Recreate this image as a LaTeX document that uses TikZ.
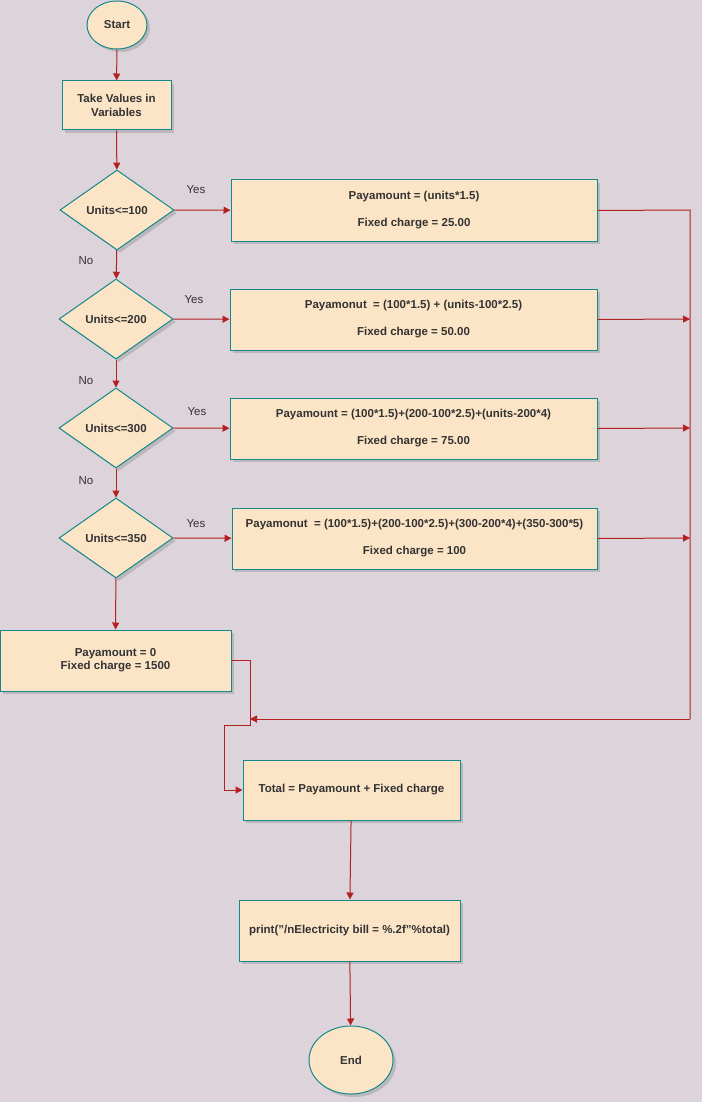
\documentclass[tikz,border=0pt]{standalone}
\usepackage{fontspec}
\setmainfont{Liberation Sans}
\usetikzlibrary{shapes.geometric,arrows.meta,shadows}
\definecolor{bg}{HTML}{DCD3DB}
\definecolor{boxfill}{HTML}{FCE5C6}
\definecolor{boxline}{HTML}{13898B}
\definecolor{arrow}{HTML}{B22222}
\definecolor{txt}{HTML}{333333}
\begin{document}
\begin{tikzpicture}[x=1pt,y=-1pt,line width=1pt,
  every node/.style={text=txt,font=\fontsize{11.5}{14}\selectfont},
  base/.style={draw=boxline,fill=boxfill,font=\fontsize{11.5}{14}\selectfont\bfseries,
    drop shadow={shadow xshift=3pt,shadow yshift=-3pt,fill=black!35,opacity=.6}},
  box/.style={base,rectangle,align=center,inner sep=0pt},
  term/.style={base,ellipse,inner sep=0pt},
  dec/.style={base,diamond,inner sep=0pt,minimum width=114pt,minimum height=80pt},
  flow/.style={draw=arrow,-{Triangle[length=7pt,width=7pt]}},
  line/.style={draw=arrow}]
\fill[bg] (0,0) rectangle (702,1102);
\useasboundingbox (0,0) rectangle (702,1102);

\node[term,minimum width=60pt,minimum height=48pt] (start) at (117,25) {Start};
\node[box,minimum width=109pt,minimum height=49pt] (take) at (116.5,105.5) {Take Values in\\Variables};
\node[dec] (d1) at (117,210) {Units<=100};
\node[dec] (d2) at (116,319) {Units<=200};
\node[dec] (d3) at (116,428) {Units<=300};
\node[dec] (d4) at (116,538) {Units<=350};

\node[box,minimum width=366pt,minimum height=61pt] (b1) at (414,210.5) {Payamount = (units*1.5)\\[13pt]Fixed charge = 25.00};
\node[box,minimum width=367pt,minimum height=61pt] (b2) at (413.5,319.5) {Payamonut \ = (100*1.5) + (units-100*2.5)\\[13pt]Fixed charge = 50.00};
\node[box,minimum width=367pt,minimum height=61pt] (b3) at (413.5,428.5) {Payamount = (100*1.5)+(200-100*2.5)+(units-200*4)\\[13pt]Fixed charge = 75.00};
\node[box,minimum width=365pt,minimum height=61pt] (b4) at (414.5,538.5) {Payamonut \ = (100*1.5)+(200-100*2.5)+(300-200*4)+(350-300*5)\\[13pt]Fixed charge = 100};
\node[box,minimum width=231pt,minimum height=61pt] (b5) at (115.5,660.5) {Payamount = 0\\[-1pt]Fixed charge = 1500};
\node[box,minimum width=217pt,minimum height=60pt] (tot) at (351.5,790) {Total = Payamount + Fixed charge};
\node[box,minimum width=221pt,minimum height=61pt] (prt) at (349.5,930.5) {print("/nElectricity bill = \%.2f"\%total)};
\node[term,minimum width=84pt,minimum height=68pt] (end) at (351,1060) {End};

\coordinate (rt) at (690,210);
\coordinate (rb) at (690,719);
\coordinate (mj) at (250,719);

\path[flow] (start) -- (take);
\path[flow] (take) -- (d1);
\path[flow] (d1) -- (d2);
\path[flow] (d2) -- (d3);
\path[flow] (d3) -- (d4);
\path[flow] (d4) -- (b5);
\path[flow] (d1) -- (b1);
\path[flow] (d2) -- (b2);
\path[flow] (d3) -- (b3);
\path[flow] (d4) -- (b4);
\path[line] (b1.east) -- (rt) -- (rb);
\path[flow] (b2.east) -- (690,319);
\path[flow] (b3.east) -- (690,428);
\path[flow] (b4.east) -- (690,538);
\path[flow] (rb) -- (mj);
\path[flow] (b5.east |- 0,660) -| (250,725) -| (224,790) -- (tot.west);
\path[flow] (tot) -- (prt);
\path[flow] (prt) -- (end);

\node (y1) at (196,190) {Yes};
\node (y2) at (194,300) {Yes};
\node (y3) at (197,412) {Yes};
\node (y4) at (196,524) {Yes};
\node (n1) at (86,261) {No};
\node (n2) at (86,381) {No};
\node (n3) at (86,481) {No};
\end{tikzpicture}
\end{document}
